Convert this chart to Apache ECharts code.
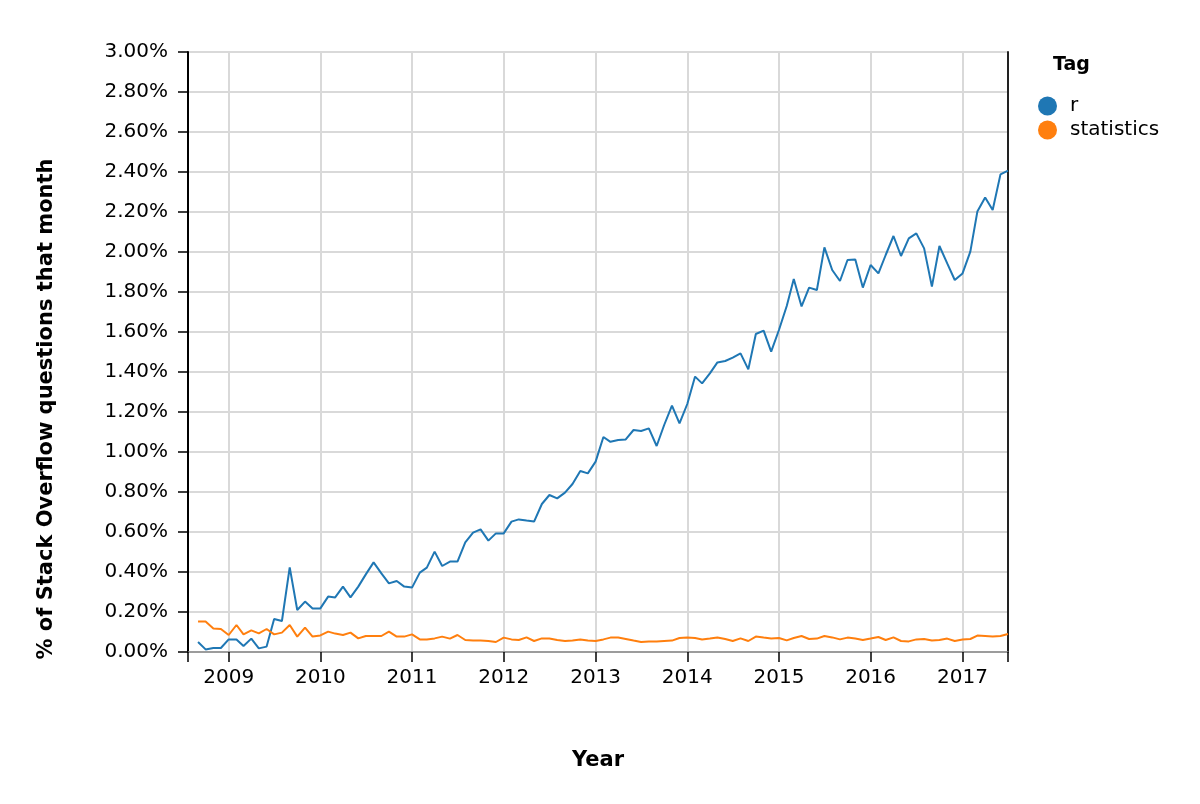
<!DOCTYPE html>
<html>
<head>
<meta charset="utf-8">
<title>r vs statistics</title>
<script src="https://cdn.jsdelivr.net/npm/echarts@6.0.0/dist/echarts.min.js"></script>
<style>
html, body { margin: 0; padding: 0; background: #fff; }
#chart { width: 1200px; height: 804px; }
</style>
</head>
<body>
<div id="chart"></div>
<script>
// monthly data, first month is Sep 2008
var startYear = 2008;
var startMonth = 9;

// % of Stack Overflow questions that month
var rShare = [
	0.05, 0.013, 0.02, 0.02,
	0.063, 0.063, 0.03, 0.067, 0.018, 0.027, 0.165, 0.155, 0.423, 0.21, 0.252, 0.218,
	0.218, 0.277, 0.273, 0.327, 0.273, 0.327, 0.388, 0.448, 0.393, 0.343, 0.355, 0.327,
	0.322, 0.397, 0.422, 0.502, 0.43, 0.452, 0.452, 0.548, 0.597, 0.613, 0.557, 0.593,
	0.593, 0.652, 0.663, 0.657, 0.652, 0.74, 0.785, 0.768, 0.797, 0.84, 0.905, 0.893,
	0.952, 1.075, 1.051, 1.06, 1.063, 1.11, 1.105, 1.118, 1.03, 1.135, 1.232, 1.143,
	1.24, 1.377, 1.343, 1.393, 1.448, 1.455, 1.472, 1.493, 1.413, 1.59, 1.607, 1.502,
	1.61, 1.73, 1.865, 1.728, 1.822, 1.81, 2.023, 1.91, 1.855, 1.96, 1.963, 1.822,
	1.935, 1.893, 1.985, 2.08, 1.98, 2.068, 2.093, 2.018, 1.827, 2.03, 1.943, 1.86,
	1.893, 2.002, 2.202, 2.273, 2.21, 2.388, 2.407
];
var statsShare = [
	0.152, 0.152, 0.118, 0.115,
	0.085, 0.135, 0.088, 0.108, 0.093, 0.115, 0.088, 0.097, 0.135, 0.077, 0.122, 0.077,
	0.083, 0.102, 0.092, 0.085, 0.097, 0.068, 0.08, 0.08, 0.08, 0.102, 0.077, 0.077,
	0.088, 0.063, 0.063, 0.068, 0.077, 0.067, 0.085, 0.06, 0.058, 0.057, 0.055, 0.05,
	0.072, 0.063, 0.06, 0.073, 0.055, 0.068, 0.068, 0.06, 0.055, 0.058, 0.063, 0.058,
	0.055, 0.063, 0.072, 0.072, 0.065, 0.057, 0.05, 0.052, 0.053, 0.055, 0.057, 0.07,
	0.072, 0.07, 0.063, 0.068, 0.073, 0.065, 0.055, 0.068, 0.055, 0.077, 0.072, 0.068,
	0.07, 0.058, 0.07, 0.08, 0.065, 0.067, 0.08, 0.073, 0.063, 0.072, 0.067, 0.06,
	0.067, 0.075, 0.06, 0.073, 0.055, 0.053, 0.063, 0.065, 0.058, 0.06, 0.067, 0.055,
	0.062, 0.065, 0.082, 0.08, 0.078, 0.08, 0.09
];
var tagNames = ['r', 'statistics'];
var yTitle = '% of Stack Overflow questions that month';

var months = [];
for (var i = 0; i < rShare.length; i++) {
	var m = startMonth - 1 + i;
	months.push(new Date(startYear + Math.floor(m / 12), m % 12, 1).getTime());
}

function pairs(values) {
	return values.map(function (v, i) { return [months[i], v]; });
}

var xMin = new Date(2008, 6, 23).getTime();
var xMax = months[months.length - 1];
var YEAR = 365 * 24 * 3600 * 1000;

var font = 'DejaVu Sans';
var chart = echarts.init(document.getElementById('chart'));

var option = {
	animation: false,
	textStyle: { fontFamily: font },
	color: ['#1f77b4', '#ff7f0e'],
	title: {
		text: 'Tag',
		left: 1048,
		top: 51,
		textStyle: { fontFamily: font, fontSize: 19, fontWeight: 'bold', color: '#000' }
	},
	legend: {
		data: tagNames,
		orient: 'vertical',
		left: 1033,
		top: 91,
		icon: 'circle',
		itemWidth: 19,
		itemHeight: 19,
		itemGap: 4,
		textStyle: { fontFamily: font, fontSize: 20, color: '#000', padding: [0, 0, 0, 8] }
	},
	graphic: [{
		type: 'text',
		x: 47,
		y: 409,
		rotation: Math.PI / 2,
		style: {
			text: yTitle,
			fontFamily: font,
			fontSize: 21,
			fontWeight: 'bold',
			fill: '#000',
			align: 'center',
			verticalAlign: 'middle'
		}
	}],
	grid: { left: 188, right: 192, top: 52, bottom: 152 },
	xAxis: [{
		type: 'time',
		min: xMin,
		max: xMax,
		minInterval: YEAR,
		maxInterval: YEAR + 24 * 3600 * 1000,
		name: 'Year',
		nameLocation: 'middle',
		nameGap: 98,
		nameTextStyle: { fontFamily: font, fontSize: 21, fontWeight: 'bold', color: '#000' },
		axisLine: { lineStyle: { color: '#888', width: 1.5 } },
		axisTick: { length: 10, lineStyle: { color: '#000', width: 1.5 } },
		axisLabel: {
			formatter: function (v) { return String(new Date(v).getFullYear()); },
			fontFamily: font,
			fontSize: 20,
			color: '#000',
			margin: 16,
			showMinLabel: false,
			showMaxLabel: false
		},
		splitLine: { show: true, lineStyle: { color: '#d9d9d9', width: 2 } }
	}, {
		// only draws the ticks at both ends of the x domain
		type: 'value',
		position: 'bottom',
		min: xMin,
		max: xMax,
		axisLine: { show: false },
		axisTick: { show: true, length: 10, customValues: [xMin, xMax], lineStyle: { color: '#000', width: 1.5 } },
		axisLabel: { show: false },
		splitLine: { show: false }
	}],
	yAxis: [{
		type: 'value',
		min: 0,
		max: 3,
		interval: 0.2,
		axisLine: { show: true, lineStyle: { color: '#000', width: 2 } },
		axisTick: { show: true, length: 10, lineStyle: { color: '#000', width: 1.5 } },
		axisLabel: {
			formatter: function (v) { return v.toFixed(2) + '%'; },
			fontFamily: font,
			fontSize: 20,
			color: '#000',
			margin: 20
		},
		splitLine: { lineStyle: { color: '#d9d9d9', width: 2 } }
	}, {
		type: 'value',
		position: 'right',
		min: 0,
		max: 3,
		interval: 0.2,
		axisLine: { show: true, lineStyle: { color: '#222', width: 2 } },
		axisTick: { show: false },
		axisLabel: { show: false },
		splitLine: { show: false }
	}],
	series: [{
		name: tagNames[0],
		type: 'line',
		data: pairs(rShare),
		showSymbol: false,
		lineStyle: { width: 2 }
	}, {
		name: tagNames[1],
		type: 'line',
		data: pairs(statsShare),
		showSymbol: false,
		lineStyle: { width: 2 }
	}]
};
chart.setOption(option);
</script>
</body>
</html>
